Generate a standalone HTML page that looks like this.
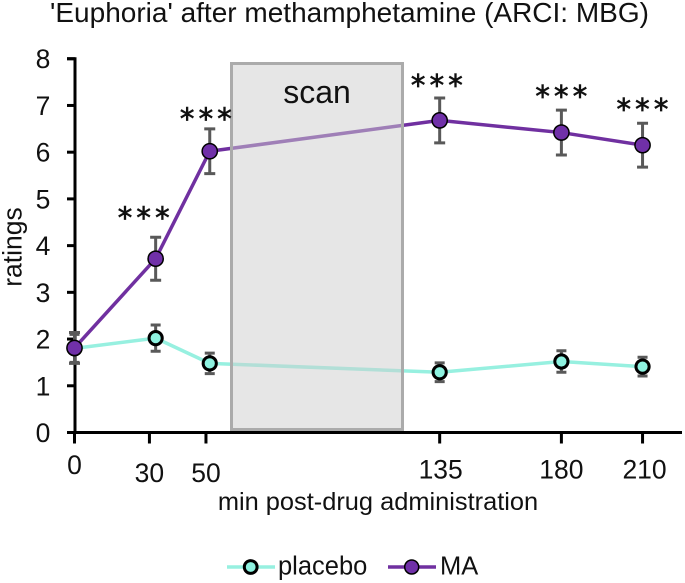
<!DOCTYPE html>
<html lang="en">
<head>
<meta charset="utf-8">
<title>Euphoria after methamphetamine</title>
<style>
html,body{margin:0;padding:0;background:#fff;}
svg{display:block;font-family:"Liberation Sans",Arial,sans-serif;fill:#111;}
</style>
</head>
<body>
<svg id="chart" width="685" height="583" viewBox="0 0 685 583" xmlns="http://www.w3.org/2000/svg">
<text x="349.5" y="22" text-anchor="middle" font-size="28">'Euphoria' after methamphetamine (ARCI: MBG)</text>
<text transform="translate(21.5 247) rotate(-90)" text-anchor="middle" font-size="26.5">ratings</text>
<text x="378" y="510" text-anchor="middle" font-size="25.4">min post-drug administration</text>
<g>
<g>
<line x1="227" y1="567" x2="275" y2="567" stroke="#97f0e0" stroke-width="3.5"/>
<circle cx="250.7" cy="567" r="6.4" fill="#8ef2e0" stroke="#000" stroke-width="3"/>
<text x="278" y="574.5" font-size="25.5">placebo</text>
</g>
<g>
<line x1="388" y1="567" x2="436" y2="567" stroke="#7030a0" stroke-width="3.5"/>
<circle cx="411.7" cy="567" r="7" fill="#7030a8" stroke="#000" stroke-width="1.5"/>
<text x="440" y="574.5" font-size="25.5">MA</text>
</g>
</g>
<script>
var times = [0, 30, 50, 135, 180, 210];
var placeboValues = [1.8, 2.02, 1.48, 1.29, 1.52, 1.41];
var placeboErrors = [0.3, 0.28, 0.22, 0.2, 0.23, 0.2];
var maValues = [1.81, 3.72, 6.02, 6.68, 6.42, 6.15];
var maErrors = [0.33, 0.46, 0.48, 0.48, 0.48, 0.47];
var xTickLabels = ['0', '30', '50', '135', '180', '210'];
var xTickTimes = [0, 27.7, 48.6, 135, 180, 210];
var yTickLabels = ['0', '1', '2', '3', '4', '5', '6', '7', '8'];
var starTimes = [25.6, 48.6, 134, 180, 210];
var starLevels = [4.76, 6.88, 7.6, 7.36, 7.08];

var svg = document.getElementById('chart');
var NS = 'http://www.w3.org/2000/svg';
function xScale(t) { return 74.5 + t * 2.705; }
function yScale(v) { return 432.5 - v * 46.72; }
function mk(tag, attrs) {
  var el = document.createElementNS(NS, tag);
  for (var k in attrs) { el.setAttribute(k, attrs[k]); }
  svg.appendChild(el);
  return el;
}
function pathFor(values) {
  return values.map(function (v, i) {
    return (i ? 'L' : 'M') + xScale(times[i]) + ' ' + yScale(v);
  }).join(' ');
}
function drawLine(values, color, name) {
  var el = mk('path', { d: pathFor(values), fill: 'none', stroke: color, 'stroke-width': 3.5, 'stroke-linejoin': 'round' });
  
  
}
function drawErrors(values, errors, capHalf, name) {
  values.forEach(function (v, i) {
    var x = xScale(times[i]);
    var top = yScale(v + errors[i]);
    var bot = yScale(v - errors[i]);
    var d = 'M' + x + ' ' + top + 'V' + bot + 'M' + (x - capHalf) + ' ' + top + 'H' + (x + capHalf) + 'M' + (x - capHalf) + ' ' + bot + 'H' + (x + capHalf);
    var el = mk('path', { d: d, fill: 'none', stroke: '#595959', 'stroke-width': 3 });
    
    
  });
}
function drawMarkers(values, r, fill, sw, name) {
  values.forEach(function (v, i) {
    var el = mk('circle', { cx: xScale(times[i]), cy: yScale(v), r: r, fill: fill, stroke: '#000', 'stroke-width': sw });
    
    
  });
}

drawLine(placeboValues, '#97f0e0', 'placebo-line');
drawLine(maValues, '#7030a0', 'ma-line');

var scanBox = mk('rect', { x: 231.5, y: 63.5, width: 171, height: 366, fill: 'rgba(205,205,205,0.5)', stroke: '#ababab', 'stroke-width': 3 });


var scanLabel = mk('text', { x: 317, y: 103, 'text-anchor': 'middle', 'font-size': 32 });
scanLabel.textContent = 'scan';



var yAxis = mk('path', { d: 'M67 ' + yScale(8) + 'H75V' + yScale(0), fill: 'none', stroke: '#000', 'stroke-width': 3 });


var xAxis = mk('line', { x1: 67, y1: yScale(0), x2: 682, y2: yScale(0), stroke: '#000', 'stroke-width': 3 });



yTickLabels.forEach(function (label) {
  var v = Number(label);
  var tick = mk('line', { x1: 67, y1: yScale(v), x2: 75, y2: yScale(v), stroke: '#000', 'stroke-width': 3 });
  
  
  var t = mk('text', { x: 43, y: yScale(v) + 9.5, 'text-anchor': 'middle', 'font-size': 26.5 });
  t.textContent = label;
  
  
});

var xLabelDrop = { '0': 41.5, '30': 49.5, '50': 49.5, '135': 46, '180': 46, '210': 46 };
var xLabelShift = { '0': 0, '30': 0, '50': 0, '135': 1, '180': 0, '210': 2 };
xTickLabels.forEach(function (label, i) {
  var x = xScale(xTickTimes[i]);
  var tick = mk('line', { x1: x, y1: yScale(0), x2: x, y2: yScale(0) + 11, stroke: '#000', 'stroke-width': 3 });
  
  
  var t = mk('text', { x: x + xLabelShift[label], y: yScale(0) + xLabelDrop[label], 'text-anchor': 'middle', 'font-size': 26.5 });
  t.textContent = label;
  
  
});

drawErrors(placeboValues, placeboErrors, 5, 'placebo-error-bar');
drawErrors(maValues, maErrors, 5.5, 'ma-error-bar');
drawMarkers(placeboValues, 6.6, '#8ef2e0', 3, 'placebo-point');
drawMarkers(maValues, 7.6, '#7030a8', 1.5, 'ma-point');

starTimes.forEach(function (t, i) {
  var el = mk('text', { x: xScale(t) + 2, y: yScale(starLevels[i]) + 18, 'text-anchor': 'middle', 'font-size': 29, 'letter-spacing': 4.2, fill: '#111', stroke: '#111', 'stroke-width': 0.7, style: 'font-family:"DejaVu Sans",sans-serif' });
  el.textContent = '***';
  
  
});
</script>
</svg>
</body>
</html>
